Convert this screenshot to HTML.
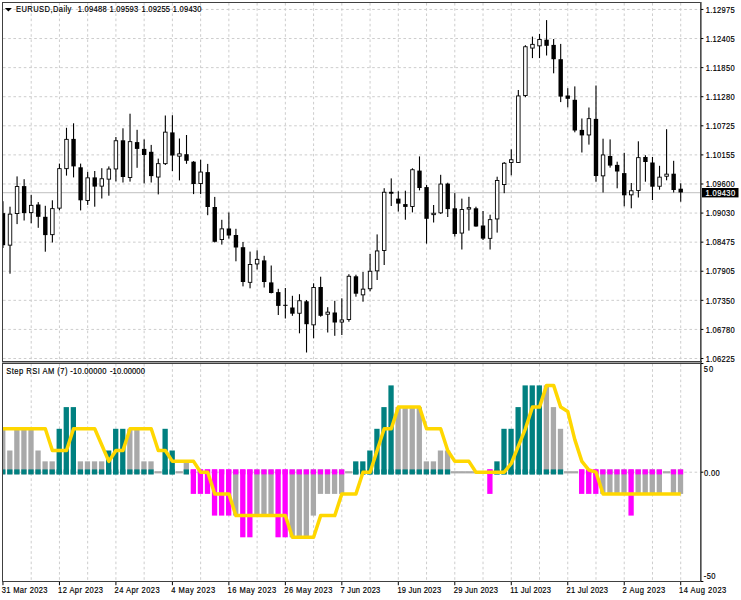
<!DOCTYPE html>
<html><head><meta charset="utf-8"><style>html,body{margin:0;padding:0;background:#fff;width:741px;height:600px;overflow:hidden;position:relative}text{font-family:"Liberation Sans",sans-serif;white-space:pre}</style></head><body>
<svg width="741" height="600" viewBox="0 0 741 600" style="position:absolute;left:0;top:0">
<rect x="0" y="0" width="741" height="600" fill="#fff"/>
<line x1="3" y1="9.45" x2="700" y2="9.45" stroke="#cdcdcd" stroke-width="1" stroke-dasharray="2.6 2.6"/>
<line x1="3" y1="38.54" x2="700" y2="38.54" stroke="#cdcdcd" stroke-width="1" stroke-dasharray="2.6 2.6"/>
<line x1="3" y1="67.63" x2="700" y2="67.63" stroke="#cdcdcd" stroke-width="1" stroke-dasharray="2.6 2.6"/>
<line x1="3" y1="96.71" x2="700" y2="96.71" stroke="#cdcdcd" stroke-width="1" stroke-dasharray="2.6 2.6"/>
<line x1="3" y1="125.80" x2="700" y2="125.80" stroke="#cdcdcd" stroke-width="1" stroke-dasharray="2.6 2.6"/>
<line x1="3" y1="154.89" x2="700" y2="154.89" stroke="#cdcdcd" stroke-width="1" stroke-dasharray="2.6 2.6"/>
<line x1="3" y1="183.98" x2="700" y2="183.98" stroke="#cdcdcd" stroke-width="1" stroke-dasharray="2.6 2.6"/>
<line x1="3" y1="213.07" x2="700" y2="213.07" stroke="#cdcdcd" stroke-width="1" stroke-dasharray="2.6 2.6"/>
<line x1="3" y1="242.15" x2="700" y2="242.15" stroke="#cdcdcd" stroke-width="1" stroke-dasharray="2.6 2.6"/>
<line x1="3" y1="271.24" x2="700" y2="271.24" stroke="#cdcdcd" stroke-width="1" stroke-dasharray="2.6 2.6"/>
<line x1="3" y1="300.33" x2="700" y2="300.33" stroke="#cdcdcd" stroke-width="1" stroke-dasharray="2.6 2.6"/>
<line x1="3" y1="329.42" x2="700" y2="329.42" stroke="#cdcdcd" stroke-width="1" stroke-dasharray="2.6 2.6"/>
<line x1="3" y1="358.51" x2="700" y2="358.51" stroke="#cdcdcd" stroke-width="1" stroke-dasharray="2.6 2.6"/>
<line x1="31.19" y1="3" x2="31.19" y2="361" stroke="#cdcdcd" stroke-width="1" stroke-dasharray="2.6 2.6"/>
<line x1="31.19" y1="364" x2="31.19" y2="581" stroke="#cdcdcd" stroke-width="1" stroke-dasharray="2.6 2.6"/>
<line x1="59.43" y1="3" x2="59.43" y2="361" stroke="#cdcdcd" stroke-width="1" stroke-dasharray="2.6 2.6"/>
<line x1="59.43" y1="364" x2="59.43" y2="581" stroke="#cdcdcd" stroke-width="1" stroke-dasharray="2.6 2.6"/>
<line x1="87.67" y1="3" x2="87.67" y2="361" stroke="#cdcdcd" stroke-width="1" stroke-dasharray="2.6 2.6"/>
<line x1="87.67" y1="364" x2="87.67" y2="581" stroke="#cdcdcd" stroke-width="1" stroke-dasharray="2.6 2.6"/>
<line x1="115.91" y1="3" x2="115.91" y2="361" stroke="#cdcdcd" stroke-width="1" stroke-dasharray="2.6 2.6"/>
<line x1="115.91" y1="364" x2="115.91" y2="581" stroke="#cdcdcd" stroke-width="1" stroke-dasharray="2.6 2.6"/>
<line x1="144.15" y1="3" x2="144.15" y2="361" stroke="#cdcdcd" stroke-width="1" stroke-dasharray="2.6 2.6"/>
<line x1="144.15" y1="364" x2="144.15" y2="581" stroke="#cdcdcd" stroke-width="1" stroke-dasharray="2.6 2.6"/>
<line x1="172.39" y1="3" x2="172.39" y2="361" stroke="#cdcdcd" stroke-width="1" stroke-dasharray="2.6 2.6"/>
<line x1="172.39" y1="364" x2="172.39" y2="581" stroke="#cdcdcd" stroke-width="1" stroke-dasharray="2.6 2.6"/>
<line x1="200.63" y1="3" x2="200.63" y2="361" stroke="#cdcdcd" stroke-width="1" stroke-dasharray="2.6 2.6"/>
<line x1="200.63" y1="364" x2="200.63" y2="581" stroke="#cdcdcd" stroke-width="1" stroke-dasharray="2.6 2.6"/>
<line x1="228.87" y1="3" x2="228.87" y2="361" stroke="#cdcdcd" stroke-width="1" stroke-dasharray="2.6 2.6"/>
<line x1="228.87" y1="364" x2="228.87" y2="581" stroke="#cdcdcd" stroke-width="1" stroke-dasharray="2.6 2.6"/>
<line x1="257.11" y1="3" x2="257.11" y2="361" stroke="#cdcdcd" stroke-width="1" stroke-dasharray="2.6 2.6"/>
<line x1="257.11" y1="364" x2="257.11" y2="581" stroke="#cdcdcd" stroke-width="1" stroke-dasharray="2.6 2.6"/>
<line x1="285.35" y1="3" x2="285.35" y2="361" stroke="#cdcdcd" stroke-width="1" stroke-dasharray="2.6 2.6"/>
<line x1="285.35" y1="364" x2="285.35" y2="581" stroke="#cdcdcd" stroke-width="1" stroke-dasharray="2.6 2.6"/>
<line x1="313.59" y1="3" x2="313.59" y2="361" stroke="#cdcdcd" stroke-width="1" stroke-dasharray="2.6 2.6"/>
<line x1="313.59" y1="364" x2="313.59" y2="581" stroke="#cdcdcd" stroke-width="1" stroke-dasharray="2.6 2.6"/>
<line x1="341.83" y1="3" x2="341.83" y2="361" stroke="#cdcdcd" stroke-width="1" stroke-dasharray="2.6 2.6"/>
<line x1="341.83" y1="364" x2="341.83" y2="581" stroke="#cdcdcd" stroke-width="1" stroke-dasharray="2.6 2.6"/>
<line x1="370.07" y1="3" x2="370.07" y2="361" stroke="#cdcdcd" stroke-width="1" stroke-dasharray="2.6 2.6"/>
<line x1="370.07" y1="364" x2="370.07" y2="581" stroke="#cdcdcd" stroke-width="1" stroke-dasharray="2.6 2.6"/>
<line x1="398.31" y1="3" x2="398.31" y2="361" stroke="#cdcdcd" stroke-width="1" stroke-dasharray="2.6 2.6"/>
<line x1="398.31" y1="364" x2="398.31" y2="581" stroke="#cdcdcd" stroke-width="1" stroke-dasharray="2.6 2.6"/>
<line x1="426.55" y1="3" x2="426.55" y2="361" stroke="#cdcdcd" stroke-width="1" stroke-dasharray="2.6 2.6"/>
<line x1="426.55" y1="364" x2="426.55" y2="581" stroke="#cdcdcd" stroke-width="1" stroke-dasharray="2.6 2.6"/>
<line x1="454.79" y1="3" x2="454.79" y2="361" stroke="#cdcdcd" stroke-width="1" stroke-dasharray="2.6 2.6"/>
<line x1="454.79" y1="364" x2="454.79" y2="581" stroke="#cdcdcd" stroke-width="1" stroke-dasharray="2.6 2.6"/>
<line x1="483.03" y1="3" x2="483.03" y2="361" stroke="#cdcdcd" stroke-width="1" stroke-dasharray="2.6 2.6"/>
<line x1="483.03" y1="364" x2="483.03" y2="581" stroke="#cdcdcd" stroke-width="1" stroke-dasharray="2.6 2.6"/>
<line x1="511.27" y1="3" x2="511.27" y2="361" stroke="#cdcdcd" stroke-width="1" stroke-dasharray="2.6 2.6"/>
<line x1="511.27" y1="364" x2="511.27" y2="581" stroke="#cdcdcd" stroke-width="1" stroke-dasharray="2.6 2.6"/>
<line x1="539.51" y1="3" x2="539.51" y2="361" stroke="#cdcdcd" stroke-width="1" stroke-dasharray="2.6 2.6"/>
<line x1="539.51" y1="364" x2="539.51" y2="581" stroke="#cdcdcd" stroke-width="1" stroke-dasharray="2.6 2.6"/>
<line x1="567.75" y1="3" x2="567.75" y2="361" stroke="#cdcdcd" stroke-width="1" stroke-dasharray="2.6 2.6"/>
<line x1="567.75" y1="364" x2="567.75" y2="581" stroke="#cdcdcd" stroke-width="1" stroke-dasharray="2.6 2.6"/>
<line x1="595.99" y1="3" x2="595.99" y2="361" stroke="#cdcdcd" stroke-width="1" stroke-dasharray="2.6 2.6"/>
<line x1="595.99" y1="364" x2="595.99" y2="581" stroke="#cdcdcd" stroke-width="1" stroke-dasharray="2.6 2.6"/>
<line x1="624.23" y1="3" x2="624.23" y2="361" stroke="#cdcdcd" stroke-width="1" stroke-dasharray="2.6 2.6"/>
<line x1="624.23" y1="364" x2="624.23" y2="581" stroke="#cdcdcd" stroke-width="1" stroke-dasharray="2.6 2.6"/>
<line x1="652.47" y1="3" x2="652.47" y2="361" stroke="#cdcdcd" stroke-width="1" stroke-dasharray="2.6 2.6"/>
<line x1="652.47" y1="364" x2="652.47" y2="581" stroke="#cdcdcd" stroke-width="1" stroke-dasharray="2.6 2.6"/>
<line x1="680.71" y1="3" x2="680.71" y2="361" stroke="#cdcdcd" stroke-width="1" stroke-dasharray="2.6 2.6"/>
<line x1="680.71" y1="364" x2="680.71" y2="581" stroke="#cdcdcd" stroke-width="1" stroke-dasharray="2.6 2.6"/>
<line x1="3" y1="472.2" x2="700" y2="472.2" stroke="#cdcdcd" stroke-width="1" stroke-dasharray="2.6 2.6"/>
<line x1="3" y1="192.6" x2="700" y2="192.6" stroke="#cccccc" stroke-width="1.15"/>
<rect x="2.40" y="201.20" width="1.1" height="46.80" fill="#000"/>
<rect x="0.75" y="213.10" width="4.4" height="32.10" fill="#000"/>
<rect x="9.46" y="206.70" width="1.1" height="67.00" fill="#000"/>
<rect x="8.26" y="214.15" width="3.5" height="31.00" fill="#fff" stroke="#000" stroke-width="0.9"/>
<rect x="16.52" y="176.40" width="1.1" height="47.70" fill="#000"/>
<rect x="15.32" y="186.55" width="3.5" height="27.00" fill="#fff" stroke="#000" stroke-width="0.9"/>
<rect x="23.58" y="179.20" width="1.1" height="41.30" fill="#000"/>
<rect x="21.93" y="186.10" width="4.4" height="27.00" fill="#000"/>
<rect x="30.64" y="194.80" width="1.1" height="28.40" fill="#000"/>
<rect x="29.44" y="205.35" width="3.5" height="7.30" fill="#fff" stroke="#000" stroke-width="0.9"/>
<rect x="37.70" y="202.10" width="1.1" height="25.70" fill="#000"/>
<rect x="36.05" y="204.50" width="4.4" height="12.30" fill="#000"/>
<rect x="44.76" y="205.80" width="1.1" height="45.90" fill="#000"/>
<rect x="43.11" y="216.80" width="4.4" height="18.30" fill="#000"/>
<rect x="51.82" y="200.30" width="1.1" height="42.20" fill="#000"/>
<rect x="50.62" y="208.65" width="3.5" height="26.00" fill="#fff" stroke="#000" stroke-width="0.9"/>
<rect x="58.88" y="163.60" width="1.1" height="46.80" fill="#000"/>
<rect x="57.68" y="168.65" width="3.5" height="39.50" fill="#fff" stroke="#000" stroke-width="0.9"/>
<rect x="65.94" y="127.80" width="1.1" height="47.80" fill="#000"/>
<rect x="64.74" y="139.35" width="3.5" height="29.30" fill="#fff" stroke="#000" stroke-width="0.9"/>
<rect x="73.00" y="123.30" width="1.1" height="54.10" fill="#000"/>
<rect x="71.35" y="138.90" width="4.4" height="27.50" fill="#000"/>
<rect x="80.06" y="163.60" width="1.1" height="46.80" fill="#000"/>
<rect x="78.41" y="167.30" width="4.4" height="33.00" fill="#000"/>
<rect x="87.12" y="171.90" width="1.1" height="33.00" fill="#000"/>
<rect x="85.92" y="177.85" width="3.5" height="22.60" fill="#fff" stroke="#000" stroke-width="0.9"/>
<rect x="94.18" y="171.00" width="1.1" height="35.70" fill="#000"/>
<rect x="92.53" y="177.40" width="4.4" height="9.20" fill="#000"/>
<rect x="101.24" y="168.20" width="1.1" height="30.30" fill="#000"/>
<rect x="100.04" y="178.75" width="3.5" height="7.40" fill="#fff" stroke="#000" stroke-width="0.9"/>
<rect x="108.30" y="166.40" width="1.1" height="29.30" fill="#000"/>
<rect x="107.10" y="169.05" width="3.5" height="10.10" fill="#fff" stroke="#000" stroke-width="0.9"/>
<rect x="115.36" y="137.00" width="1.1" height="44.40" fill="#000"/>
<rect x="114.16" y="140.75" width="3.5" height="28.20" fill="#fff" stroke="#000" stroke-width="0.9"/>
<rect x="122.42" y="128.30" width="1.1" height="54.20" fill="#000"/>
<rect x="120.77" y="140.30" width="4.4" height="36.70" fill="#000"/>
<rect x="129.48" y="113.70" width="1.1" height="67.90" fill="#000"/>
<rect x="128.28" y="141.65" width="3.5" height="35.80" fill="#fff" stroke="#000" stroke-width="0.9"/>
<rect x="136.54" y="129.80" width="1.1" height="38.00" fill="#000"/>
<rect x="134.89" y="142.10" width="4.4" height="6.80" fill="#000"/>
<rect x="143.60" y="139.40" width="1.1" height="44.00" fill="#000"/>
<rect x="141.95" y="148.90" width="4.4" height="6.10" fill="#000"/>
<rect x="150.66" y="144.90" width="1.1" height="37.60" fill="#000"/>
<rect x="149.01" y="151.80" width="4.4" height="24.30" fill="#000"/>
<rect x="157.72" y="158.60" width="1.1" height="35.80" fill="#000"/>
<rect x="156.52" y="163.65" width="3.5" height="13.40" fill="#fff" stroke="#000" stroke-width="0.9"/>
<rect x="164.78" y="115.50" width="1.1" height="49.50" fill="#000"/>
<rect x="163.58" y="132.15" width="3.5" height="31.50" fill="#fff" stroke="#000" stroke-width="0.9"/>
<rect x="171.84" y="115.20" width="1.1" height="55.80" fill="#000"/>
<rect x="170.19" y="132.40" width="4.4" height="23.10" fill="#000"/>
<rect x="178.90" y="138.50" width="1.1" height="41.90" fill="#000"/>
<rect x="177.70" y="153.85" width="3.5" height="2.30" fill="#fff" stroke="#000" stroke-width="0.9"/>
<rect x="185.96" y="135.00" width="1.1" height="28.80" fill="#000"/>
<rect x="184.31" y="154.20" width="4.4" height="6.60" fill="#000"/>
<rect x="193.02" y="161.10" width="1.1" height="33.00" fill="#000"/>
<rect x="191.37" y="161.70" width="4.4" height="22.30" fill="#000"/>
<rect x="200.08" y="159.80" width="1.1" height="34.30" fill="#000"/>
<rect x="198.88" y="172.05" width="3.5" height="11.50" fill="#fff" stroke="#000" stroke-width="0.9"/>
<rect x="207.14" y="163.90" width="1.1" height="51.30" fill="#000"/>
<rect x="205.49" y="172.10" width="4.4" height="34.90" fill="#000"/>
<rect x="214.20" y="196.90" width="1.1" height="45.60" fill="#000"/>
<rect x="212.55" y="207.00" width="4.4" height="34.80" fill="#000"/>
<rect x="221.26" y="219.80" width="1.1" height="24.80" fill="#000"/>
<rect x="220.06" y="228.85" width="3.5" height="10.70" fill="#fff" stroke="#000" stroke-width="0.9"/>
<rect x="228.32" y="212.50" width="1.1" height="26.10" fill="#000"/>
<rect x="226.67" y="228.50" width="4.4" height="7.00" fill="#000"/>
<rect x="235.38" y="228.80" width="1.1" height="32.50" fill="#000"/>
<rect x="233.73" y="235.00" width="4.4" height="12.50" fill="#000"/>
<rect x="242.44" y="242.00" width="1.1" height="44.40" fill="#000"/>
<rect x="240.79" y="247.20" width="4.4" height="34.80" fill="#000"/>
<rect x="249.50" y="251.60" width="1.1" height="36.70" fill="#000"/>
<rect x="248.30" y="264.45" width="3.5" height="17.90" fill="#fff" stroke="#000" stroke-width="0.9"/>
<rect x="256.56" y="250.30" width="1.1" height="19.20" fill="#000"/>
<rect x="255.36" y="259.35" width="3.5" height="4.60" fill="#fff" stroke="#000" stroke-width="0.9"/>
<rect x="263.62" y="255.80" width="1.1" height="31.70" fill="#000"/>
<rect x="261.97" y="260.40" width="4.4" height="21.60" fill="#000"/>
<rect x="270.68" y="265.50" width="1.1" height="27.90" fill="#000"/>
<rect x="269.03" y="282.40" width="4.4" height="10.60" fill="#000"/>
<rect x="277.74" y="288.80" width="1.1" height="26.20" fill="#000"/>
<rect x="276.09" y="292.10" width="4.4" height="13.80" fill="#000"/>
<rect x="284.80" y="288.00" width="1.1" height="30.50" fill="#000"/>
<rect x="283.15" y="304.80" width="4.4" height="1" fill="#000"/>
<rect x="291.86" y="295.80" width="1.1" height="20.00" fill="#000"/>
<rect x="290.21" y="307.50" width="4.4" height="6.20" fill="#000"/>
<rect x="298.92" y="294.20" width="1.1" height="39.10" fill="#000"/>
<rect x="297.72" y="300.75" width="3.5" height="12.50" fill="#fff" stroke="#000" stroke-width="0.9"/>
<rect x="305.98" y="300.00" width="1.1" height="52.50" fill="#000"/>
<rect x="304.33" y="301.30" width="4.4" height="22.90" fill="#000"/>
<rect x="313.04" y="283.30" width="1.1" height="55.00" fill="#000"/>
<rect x="311.84" y="287.45" width="3.5" height="37.40" fill="#fff" stroke="#000" stroke-width="0.9"/>
<rect x="320.10" y="276.70" width="1.1" height="40.00" fill="#000"/>
<rect x="318.45" y="287.00" width="4.4" height="28.80" fill="#000"/>
<rect x="327.16" y="307.20" width="1.1" height="25.30" fill="#000"/>
<rect x="325.96" y="312.15" width="3.5" height="2.10" fill="#fff" stroke="#000" stroke-width="0.9"/>
<rect x="334.22" y="300.80" width="1.1" height="35.00" fill="#000"/>
<rect x="332.57" y="312.50" width="4.4" height="10.00" fill="#000"/>
<rect x="341.28" y="298.30" width="1.1" height="36.70" fill="#000"/>
<rect x="340.08" y="319.95" width="3.5" height="2.10" fill="#fff" stroke="#000" stroke-width="0.9"/>
<rect x="348.34" y="274.20" width="1.1" height="47.50" fill="#000"/>
<rect x="347.14" y="276.25" width="3.5" height="43.30" fill="#fff" stroke="#000" stroke-width="0.9"/>
<rect x="355.40" y="274.70" width="1.1" height="22.00" fill="#000"/>
<rect x="353.75" y="276.30" width="4.4" height="17.40" fill="#000"/>
<rect x="362.46" y="272.00" width="1.1" height="29.70" fill="#000"/>
<rect x="361.26" y="289.15" width="3.5" height="5.70" fill="#fff" stroke="#000" stroke-width="0.9"/>
<rect x="369.52" y="254.00" width="1.1" height="37.30" fill="#000"/>
<rect x="368.32" y="271.25" width="3.5" height="17.50" fill="#fff" stroke="#000" stroke-width="0.9"/>
<rect x="376.58" y="234.40" width="1.1" height="45.60" fill="#000"/>
<rect x="375.38" y="250.95" width="3.5" height="19.90" fill="#fff" stroke="#000" stroke-width="0.9"/>
<rect x="383.64" y="188.20" width="1.1" height="76.80" fill="#000"/>
<rect x="382.44" y="192.25" width="3.5" height="58.20" fill="#fff" stroke="#000" stroke-width="0.9"/>
<rect x="390.70" y="178.40" width="1.1" height="27.60" fill="#000"/>
<rect x="389.05" y="191.80" width="4.4" height="1.90" fill="#000"/>
<rect x="397.76" y="191.30" width="1.1" height="20.20" fill="#000"/>
<rect x="396.11" y="198.60" width="4.4" height="5.00" fill="#000"/>
<rect x="404.82" y="190.70" width="1.1" height="29.00" fill="#000"/>
<rect x="403.17" y="204.10" width="4.4" height="2.80" fill="#000"/>
<rect x="411.88" y="168.30" width="1.1" height="44.10" fill="#000"/>
<rect x="410.68" y="169.75" width="3.5" height="36.70" fill="#fff" stroke="#000" stroke-width="0.9"/>
<rect x="418.94" y="156.40" width="1.1" height="34.00" fill="#000"/>
<rect x="417.29" y="170.60" width="4.4" height="17.40" fill="#000"/>
<rect x="426.00" y="184.90" width="1.1" height="58.70" fill="#000"/>
<rect x="424.35" y="187.10" width="4.4" height="31.70" fill="#000"/>
<rect x="433.06" y="205.00" width="1.1" height="17.50" fill="#000"/>
<rect x="431.86" y="213.25" width="3.5" height="1.40" fill="#fff" stroke="#000" stroke-width="0.9"/>
<rect x="440.12" y="174.80" width="1.1" height="39.10" fill="#000"/>
<rect x="438.92" y="184.05" width="3.5" height="28.80" fill="#fff" stroke="#000" stroke-width="0.9"/>
<rect x="447.18" y="182.70" width="1.1" height="34.30" fill="#000"/>
<rect x="445.53" y="183.60" width="4.4" height="25.50" fill="#000"/>
<rect x="454.24" y="193.10" width="1.1" height="43.50" fill="#000"/>
<rect x="452.59" y="208.30" width="4.4" height="25.70" fill="#000"/>
<rect x="461.30" y="198.60" width="1.1" height="50.90" fill="#000"/>
<rect x="460.10" y="209.55" width="3.5" height="23.50" fill="#fff" stroke="#000" stroke-width="0.9"/>
<rect x="468.36" y="196.80" width="1.1" height="33.80" fill="#000"/>
<rect x="467.16" y="207.65" width="3.5" height="1.40" fill="#fff" stroke="#000" stroke-width="0.9"/>
<rect x="475.42" y="206.70" width="1.1" height="20.00" fill="#000"/>
<rect x="473.77" y="208.30" width="4.4" height="18.20" fill="#000"/>
<rect x="482.48" y="211.00" width="1.1" height="29.00" fill="#000"/>
<rect x="480.83" y="225.50" width="4.4" height="13.10" fill="#000"/>
<rect x="489.54" y="214.70" width="1.1" height="34.80" fill="#000"/>
<rect x="488.34" y="219.65" width="3.5" height="18.70" fill="#fff" stroke="#000" stroke-width="0.9"/>
<rect x="496.60" y="176.70" width="1.1" height="55.90" fill="#000"/>
<rect x="495.40" y="180.45" width="3.5" height="38.50" fill="#fff" stroke="#000" stroke-width="0.9"/>
<rect x="503.66" y="162.00" width="1.1" height="31.20" fill="#000"/>
<rect x="502.46" y="163.25" width="3.5" height="21.30" fill="#fff" stroke="#000" stroke-width="0.9"/>
<rect x="510.72" y="149.30" width="1.1" height="26.00" fill="#000"/>
<rect x="509.52" y="159.75" width="3.5" height="2.70" fill="#fff" stroke="#000" stroke-width="0.9"/>
<rect x="517.78" y="90.00" width="1.1" height="72.90" fill="#000"/>
<rect x="516.58" y="95.95" width="3.5" height="66.50" fill="#fff" stroke="#000" stroke-width="0.9"/>
<rect x="524.84" y="45.20" width="1.1" height="52.00" fill="#000"/>
<rect x="523.64" y="46.75" width="3.5" height="48.80" fill="#fff" stroke="#000" stroke-width="0.9"/>
<rect x="531.90" y="36.60" width="1.1" height="21.50" fill="#000"/>
<rect x="530.70" y="44.35" width="3.5" height="3.70" fill="#fff" stroke="#000" stroke-width="0.9"/>
<rect x="538.96" y="33.90" width="1.1" height="24.20" fill="#000"/>
<rect x="537.76" y="39.45" width="3.5" height="6.40" fill="#fff" stroke="#000" stroke-width="0.9"/>
<rect x="546.02" y="20.10" width="1.1" height="35.40" fill="#000"/>
<rect x="544.37" y="39.70" width="4.4" height="6.10" fill="#000"/>
<rect x="553.08" y="39.00" width="1.1" height="34.30" fill="#000"/>
<rect x="551.43" y="44.90" width="4.4" height="14.30" fill="#000"/>
<rect x="560.14" y="43.90" width="1.1" height="58.20" fill="#000"/>
<rect x="558.49" y="59.20" width="4.4" height="37.40" fill="#000"/>
<rect x="567.20" y="88.20" width="1.1" height="19.10" fill="#000"/>
<rect x="565.55" y="95.50" width="4.4" height="3.30" fill="#000"/>
<rect x="574.26" y="86.40" width="1.1" height="45.90" fill="#000"/>
<rect x="572.61" y="99.80" width="4.4" height="30.70" fill="#000"/>
<rect x="581.32" y="118.50" width="1.1" height="34.00" fill="#000"/>
<rect x="579.67" y="129.90" width="4.4" height="5.50" fill="#000"/>
<rect x="588.38" y="107.50" width="1.1" height="37.10" fill="#000"/>
<rect x="587.18" y="118.65" width="3.5" height="16.30" fill="#fff" stroke="#000" stroke-width="0.9"/>
<rect x="595.44" y="85.50" width="1.1" height="96.20" fill="#000"/>
<rect x="593.79" y="118.90" width="4.4" height="57.10" fill="#000"/>
<rect x="602.50" y="138.70" width="1.1" height="53.80" fill="#000"/>
<rect x="601.30" y="154.95" width="3.5" height="20.90" fill="#fff" stroke="#000" stroke-width="0.9"/>
<rect x="609.56" y="139.40" width="1.1" height="28.20" fill="#000"/>
<rect x="607.91" y="156.00" width="4.4" height="9.60" fill="#000"/>
<rect x="616.62" y="161.70" width="1.1" height="26.60" fill="#000"/>
<rect x="614.97" y="164.90" width="4.4" height="6.60" fill="#000"/>
<rect x="623.68" y="152.80" width="1.1" height="53.50" fill="#000"/>
<rect x="622.03" y="173.10" width="4.4" height="22.20" fill="#000"/>
<rect x="630.74" y="183.00" width="1.1" height="25.30" fill="#000"/>
<rect x="629.54" y="190.75" width="3.5" height="4.10" fill="#fff" stroke="#000" stroke-width="0.9"/>
<rect x="637.80" y="141.30" width="1.1" height="56.20" fill="#000"/>
<rect x="636.60" y="157.65" width="3.5" height="32.90" fill="#fff" stroke="#000" stroke-width="0.9"/>
<rect x="644.86" y="155.20" width="1.1" height="26.50" fill="#000"/>
<rect x="643.21" y="157.00" width="4.4" height="5.00" fill="#000"/>
<rect x="651.92" y="157.00" width="1.1" height="43.00" fill="#000"/>
<rect x="650.27" y="162.50" width="4.4" height="24.20" fill="#000"/>
<rect x="658.98" y="165.80" width="1.1" height="23.90" fill="#000"/>
<rect x="657.78" y="177.15" width="3.5" height="9.10" fill="#fff" stroke="#000" stroke-width="0.9"/>
<rect x="666.04" y="129.20" width="1.1" height="51.10" fill="#000"/>
<rect x="664.84" y="174.15" width="3.5" height="2.10" fill="#fff" stroke="#000" stroke-width="0.9"/>
<rect x="673.10" y="160.80" width="1.1" height="31.70" fill="#000"/>
<rect x="671.45" y="173.70" width="4.4" height="16.30" fill="#000"/>
<rect x="680.16" y="183.30" width="1.1" height="18.40" fill="#000"/>
<rect x="678.51" y="188.70" width="4.4" height="3.80" fill="#000"/>
<rect x="0.10" y="428.80" width="5.3" height="45.60" fill="#a9a9a9"/>
<rect x="0.10" y="469.4" width="5.3" height="5.0" fill="#008080"/>
<rect x="7.16" y="450.50" width="5.3" height="23.90" fill="#a9a9a9"/>
<rect x="7.16" y="469.4" width="5.3" height="5.0" fill="#008080"/>
<rect x="14.22" y="428.80" width="5.3" height="45.60" fill="#a9a9a9"/>
<rect x="14.22" y="469.4" width="5.3" height="5.0" fill="#008080"/>
<rect x="21.28" y="428.80" width="5.3" height="45.60" fill="#a9a9a9"/>
<rect x="21.28" y="469.4" width="5.3" height="5.0" fill="#008080"/>
<rect x="28.34" y="428.80" width="5.3" height="45.60" fill="#a9a9a9"/>
<rect x="28.34" y="469.4" width="5.3" height="5.0" fill="#008080"/>
<rect x="35.40" y="450.50" width="5.3" height="23.90" fill="#a9a9a9"/>
<rect x="35.40" y="469.4" width="5.3" height="5.0" fill="#008080"/>
<rect x="42.46" y="461.35" width="5.3" height="13.05" fill="#a9a9a9"/>
<rect x="42.46" y="469.4" width="5.3" height="5.0" fill="#008080"/>
<rect x="49.52" y="461.35" width="5.3" height="13.05" fill="#a9a9a9"/>
<rect x="49.52" y="469.4" width="5.3" height="5.0" fill="#008080"/>
<rect x="56.58" y="428.80" width="5.3" height="45.60" fill="#008080"/>
<rect x="56.58" y="469.4" width="5.3" height="5.0" fill="#008080"/>
<rect x="63.64" y="407.10" width="5.3" height="67.30" fill="#008080"/>
<rect x="63.64" y="469.4" width="5.3" height="5.0" fill="#008080"/>
<rect x="70.70" y="407.10" width="5.3" height="67.30" fill="#008080"/>
<rect x="70.70" y="469.4" width="5.3" height="5.0" fill="#008080"/>
<rect x="77.76" y="461.35" width="5.3" height="13.05" fill="#a9a9a9"/>
<rect x="77.76" y="469.4" width="5.3" height="5.0" fill="#008080"/>
<rect x="84.82" y="461.35" width="5.3" height="13.05" fill="#a9a9a9"/>
<rect x="84.82" y="469.4" width="5.3" height="5.0" fill="#008080"/>
<rect x="91.88" y="461.35" width="5.3" height="13.05" fill="#a9a9a9"/>
<rect x="91.88" y="469.4" width="5.3" height="5.0" fill="#008080"/>
<rect x="98.94" y="461.35" width="5.3" height="13.05" fill="#a9a9a9"/>
<rect x="98.94" y="469.4" width="5.3" height="5.0" fill="#008080"/>
<rect x="106.00" y="450.50" width="5.3" height="23.90" fill="#008080"/>
<rect x="106.00" y="469.4" width="5.3" height="5.0" fill="#008080"/>
<rect x="113.06" y="428.80" width="5.3" height="45.60" fill="#008080"/>
<rect x="113.06" y="469.4" width="5.3" height="5.0" fill="#008080"/>
<rect x="120.12" y="428.80" width="5.3" height="45.60" fill="#008080"/>
<rect x="120.12" y="469.4" width="5.3" height="5.0" fill="#008080"/>
<rect x="127.18" y="428.80" width="5.3" height="45.60" fill="#a9a9a9"/>
<rect x="127.18" y="469.4" width="5.3" height="5.0" fill="#008080"/>
<rect x="134.24" y="428.80" width="5.3" height="45.60" fill="#a9a9a9"/>
<rect x="134.24" y="469.4" width="5.3" height="5.0" fill="#008080"/>
<rect x="141.30" y="461.35" width="5.3" height="13.05" fill="#a9a9a9"/>
<rect x="141.30" y="469.4" width="5.3" height="5.0" fill="#008080"/>
<rect x="148.36" y="461.35" width="5.3" height="13.05" fill="#a9a9a9"/>
<rect x="148.36" y="469.4" width="5.3" height="5.0" fill="#008080"/>
<rect x="154.47" y="471.2" width="7.2" height="2.2" fill="#a9a9a9"/>
<rect x="162.48" y="428.80" width="5.3" height="45.60" fill="#008080"/>
<rect x="162.48" y="469.4" width="5.3" height="5.0" fill="#008080"/>
<rect x="169.54" y="450.50" width="5.3" height="23.90" fill="#008080"/>
<rect x="169.54" y="469.4" width="5.3" height="5.0" fill="#008080"/>
<rect x="175.65" y="471.2" width="7.2" height="2.2" fill="#a9a9a9"/>
<rect x="183.66" y="461.35" width="5.3" height="13.05" fill="#a9a9a9"/>
<rect x="183.66" y="469.4" width="5.3" height="5.0" fill="#008080"/>
<rect x="190.72" y="469.4" width="5.3" height="24.50" fill="#ff00ff"/>
<rect x="190.72" y="469.4" width="5.3" height="5.0" fill="#ff00ff"/>
<rect x="197.78" y="469.4" width="5.3" height="24.50" fill="#ff00ff"/>
<rect x="197.78" y="469.4" width="5.3" height="5.0" fill="#ff00ff"/>
<rect x="204.84" y="469.4" width="5.3" height="24.50" fill="#ff00ff"/>
<rect x="204.84" y="469.4" width="5.3" height="5.0" fill="#ff00ff"/>
<rect x="211.90" y="469.4" width="5.3" height="46.20" fill="#ff00ff"/>
<rect x="211.90" y="469.4" width="5.3" height="5.0" fill="#ff00ff"/>
<rect x="218.96" y="469.4" width="5.3" height="46.20" fill="#ff00ff"/>
<rect x="218.96" y="469.4" width="5.3" height="5.0" fill="#ff00ff"/>
<rect x="226.02" y="469.4" width="5.3" height="46.20" fill="#ff00ff"/>
<rect x="226.02" y="469.4" width="5.3" height="5.0" fill="#ff00ff"/>
<rect x="233.08" y="469.4" width="5.3" height="46.20" fill="#a9a9a9"/>
<rect x="233.08" y="469.4" width="5.3" height="5.0" fill="#ff00ff"/>
<rect x="240.14" y="469.4" width="5.3" height="67.90" fill="#ff00ff"/>
<rect x="240.14" y="469.4" width="5.3" height="5.0" fill="#ff00ff"/>
<rect x="247.20" y="469.4" width="5.3" height="67.90" fill="#ff00ff"/>
<rect x="247.20" y="469.4" width="5.3" height="5.0" fill="#ff00ff"/>
<rect x="254.26" y="469.4" width="5.3" height="46.20" fill="#a9a9a9"/>
<rect x="254.26" y="469.4" width="5.3" height="5.0" fill="#ff00ff"/>
<rect x="261.32" y="469.4" width="5.3" height="46.20" fill="#a9a9a9"/>
<rect x="261.32" y="469.4" width="5.3" height="5.0" fill="#ff00ff"/>
<rect x="268.38" y="469.4" width="5.3" height="46.20" fill="#a9a9a9"/>
<rect x="268.38" y="469.4" width="5.3" height="5.0" fill="#ff00ff"/>
<rect x="275.44" y="469.4" width="5.3" height="67.90" fill="#ff00ff"/>
<rect x="275.44" y="469.4" width="5.3" height="5.0" fill="#ff00ff"/>
<rect x="282.50" y="469.4" width="5.3" height="67.90" fill="#ff00ff"/>
<rect x="282.50" y="469.4" width="5.3" height="5.0" fill="#ff00ff"/>
<rect x="289.56" y="469.4" width="5.3" height="67.90" fill="#a9a9a9"/>
<rect x="289.56" y="469.4" width="5.3" height="5.0" fill="#ff00ff"/>
<rect x="296.62" y="469.4" width="5.3" height="67.90" fill="#a9a9a9"/>
<rect x="296.62" y="469.4" width="5.3" height="5.0" fill="#ff00ff"/>
<rect x="303.68" y="469.4" width="5.3" height="67.90" fill="#a9a9a9"/>
<rect x="303.68" y="469.4" width="5.3" height="5.0" fill="#ff00ff"/>
<rect x="310.74" y="469.4" width="5.3" height="46.20" fill="#a9a9a9"/>
<rect x="310.74" y="469.4" width="5.3" height="5.0" fill="#ff00ff"/>
<rect x="317.80" y="469.4" width="5.3" height="24.50" fill="#a9a9a9"/>
<rect x="317.80" y="469.4" width="5.3" height="5.0" fill="#ff00ff"/>
<rect x="324.86" y="469.4" width="5.3" height="24.50" fill="#a9a9a9"/>
<rect x="324.86" y="469.4" width="5.3" height="5.0" fill="#ff00ff"/>
<rect x="331.92" y="469.4" width="5.3" height="24.50" fill="#a9a9a9"/>
<rect x="331.92" y="469.4" width="5.3" height="5.0" fill="#ff00ff"/>
<rect x="338.98" y="469.4" width="5.3" height="24.50" fill="#a9a9a9"/>
<rect x="338.98" y="469.4" width="5.3" height="5.0" fill="#ff00ff"/>
<rect x="345.09" y="471.2" width="7.2" height="2.2" fill="#a9a9a9"/>
<rect x="353.10" y="461.35" width="5.3" height="13.05" fill="#008080"/>
<rect x="353.10" y="469.4" width="5.3" height="5.0" fill="#008080"/>
<rect x="360.16" y="461.35" width="5.3" height="13.05" fill="#008080"/>
<rect x="360.16" y="469.4" width="5.3" height="5.0" fill="#008080"/>
<rect x="367.22" y="450.50" width="5.3" height="23.90" fill="#008080"/>
<rect x="367.22" y="469.4" width="5.3" height="5.0" fill="#008080"/>
<rect x="374.28" y="428.80" width="5.3" height="45.60" fill="#008080"/>
<rect x="374.28" y="469.4" width="5.3" height="5.0" fill="#008080"/>
<rect x="381.34" y="407.10" width="5.3" height="67.30" fill="#008080"/>
<rect x="381.34" y="469.4" width="5.3" height="5.0" fill="#008080"/>
<rect x="388.40" y="385.40" width="5.3" height="89.00" fill="#008080"/>
<rect x="388.40" y="469.4" width="5.3" height="5.0" fill="#008080"/>
<rect x="395.46" y="407.10" width="5.3" height="67.30" fill="#a9a9a9"/>
<rect x="395.46" y="469.4" width="5.3" height="5.0" fill="#008080"/>
<rect x="402.52" y="407.10" width="5.3" height="67.30" fill="#a9a9a9"/>
<rect x="402.52" y="469.4" width="5.3" height="5.0" fill="#008080"/>
<rect x="409.58" y="407.10" width="5.3" height="67.30" fill="#a9a9a9"/>
<rect x="409.58" y="469.4" width="5.3" height="5.0" fill="#008080"/>
<rect x="416.64" y="407.10" width="5.3" height="67.30" fill="#a9a9a9"/>
<rect x="416.64" y="469.4" width="5.3" height="5.0" fill="#008080"/>
<rect x="423.70" y="461.35" width="5.3" height="13.05" fill="#a9a9a9"/>
<rect x="423.70" y="469.4" width="5.3" height="5.0" fill="#008080"/>
<rect x="430.76" y="461.35" width="5.3" height="13.05" fill="#a9a9a9"/>
<rect x="430.76" y="469.4" width="5.3" height="5.0" fill="#008080"/>
<rect x="437.82" y="450.50" width="5.3" height="23.90" fill="#a9a9a9"/>
<rect x="437.82" y="469.4" width="5.3" height="5.0" fill="#008080"/>
<rect x="444.88" y="450.50" width="5.3" height="23.90" fill="#a9a9a9"/>
<rect x="444.88" y="469.4" width="5.3" height="5.0" fill="#008080"/>
<rect x="450.99" y="471.2" width="7.2" height="2.2" fill="#a9a9a9"/>
<rect x="458.05" y="471.2" width="7.2" height="2.2" fill="#a9a9a9"/>
<rect x="465.11" y="471.2" width="7.2" height="2.2" fill="#a9a9a9"/>
<rect x="472.17" y="471.2" width="7.2" height="2.2" fill="#a9a9a9"/>
<rect x="479.23" y="471.2" width="7.2" height="2.2" fill="#a9a9a9"/>
<rect x="487.24" y="469.4" width="5.3" height="24.50" fill="#ff00ff"/>
<rect x="487.24" y="469.4" width="5.3" height="5.0" fill="#ff00ff"/>
<rect x="494.30" y="461.35" width="5.3" height="13.05" fill="#008080"/>
<rect x="494.30" y="469.4" width="5.3" height="5.0" fill="#008080"/>
<rect x="501.36" y="428.80" width="5.3" height="45.60" fill="#008080"/>
<rect x="501.36" y="469.4" width="5.3" height="5.0" fill="#008080"/>
<rect x="508.42" y="428.80" width="5.3" height="45.60" fill="#008080"/>
<rect x="508.42" y="469.4" width="5.3" height="5.0" fill="#008080"/>
<rect x="515.48" y="407.10" width="5.3" height="67.30" fill="#008080"/>
<rect x="515.48" y="469.4" width="5.3" height="5.0" fill="#008080"/>
<rect x="522.54" y="385.40" width="5.3" height="89.00" fill="#008080"/>
<rect x="522.54" y="469.4" width="5.3" height="5.0" fill="#008080"/>
<rect x="529.60" y="385.40" width="5.3" height="89.00" fill="#008080"/>
<rect x="529.60" y="469.4" width="5.3" height="5.0" fill="#008080"/>
<rect x="536.66" y="385.40" width="5.3" height="89.00" fill="#008080"/>
<rect x="536.66" y="469.4" width="5.3" height="5.0" fill="#008080"/>
<rect x="543.72" y="385.40" width="5.3" height="89.00" fill="#a9a9a9"/>
<rect x="543.72" y="469.4" width="5.3" height="5.0" fill="#008080"/>
<rect x="550.78" y="407.10" width="5.3" height="67.30" fill="#a9a9a9"/>
<rect x="550.78" y="469.4" width="5.3" height="5.0" fill="#008080"/>
<rect x="557.84" y="428.80" width="5.3" height="45.60" fill="#a9a9a9"/>
<rect x="557.84" y="469.4" width="5.3" height="5.0" fill="#008080"/>
<rect x="563.95" y="471.2" width="7.2" height="2.2" fill="#a9a9a9"/>
<rect x="571.01" y="471.2" width="7.2" height="2.2" fill="#a9a9a9"/>
<rect x="579.02" y="469.4" width="5.3" height="24.50" fill="#ff00ff"/>
<rect x="579.02" y="469.4" width="5.3" height="5.0" fill="#ff00ff"/>
<rect x="586.08" y="469.4" width="5.3" height="24.50" fill="#ff00ff"/>
<rect x="586.08" y="469.4" width="5.3" height="5.0" fill="#ff00ff"/>
<rect x="593.14" y="469.4" width="5.3" height="24.50" fill="#ff00ff"/>
<rect x="593.14" y="469.4" width="5.3" height="5.0" fill="#ff00ff"/>
<rect x="600.20" y="469.4" width="5.3" height="24.50" fill="#a9a9a9"/>
<rect x="600.20" y="469.4" width="5.3" height="5.0" fill="#ff00ff"/>
<rect x="607.26" y="469.4" width="5.3" height="24.50" fill="#a9a9a9"/>
<rect x="607.26" y="469.4" width="5.3" height="5.0" fill="#ff00ff"/>
<rect x="614.32" y="469.4" width="5.3" height="24.50" fill="#a9a9a9"/>
<rect x="614.32" y="469.4" width="5.3" height="5.0" fill="#ff00ff"/>
<rect x="621.38" y="469.4" width="5.3" height="24.50" fill="#a9a9a9"/>
<rect x="621.38" y="469.4" width="5.3" height="5.0" fill="#ff00ff"/>
<rect x="628.44" y="469.4" width="5.3" height="46.20" fill="#ff00ff"/>
<rect x="628.44" y="469.4" width="5.3" height="5.0" fill="#ff00ff"/>
<rect x="635.50" y="469.4" width="5.3" height="24.50" fill="#a9a9a9"/>
<rect x="635.50" y="469.4" width="5.3" height="5.0" fill="#ff00ff"/>
<rect x="642.56" y="469.4" width="5.3" height="24.50" fill="#a9a9a9"/>
<rect x="642.56" y="469.4" width="5.3" height="5.0" fill="#ff00ff"/>
<rect x="649.62" y="469.4" width="5.3" height="24.50" fill="#a9a9a9"/>
<rect x="649.62" y="469.4" width="5.3" height="5.0" fill="#ff00ff"/>
<rect x="656.68" y="469.4" width="5.3" height="24.50" fill="#a9a9a9"/>
<rect x="656.68" y="469.4" width="5.3" height="5.0" fill="#ff00ff"/>
<rect x="662.79" y="471.2" width="7.2" height="2.2" fill="#a9a9a9"/>
<rect x="670.80" y="469.4" width="5.3" height="24.50" fill="#a9a9a9"/>
<rect x="670.80" y="469.4" width="5.3" height="5.0" fill="#ff00ff"/>
<rect x="677.86" y="469.4" width="5.3" height="24.50" fill="#a9a9a9"/>
<rect x="677.86" y="469.4" width="5.3" height="5.0" fill="#ff00ff"/>
<polyline points="2.95,428.80 10.01,428.80 17.07,428.80 24.13,428.80 31.19,428.80 38.25,428.80 45.31,428.80 52.37,450.50 59.43,450.50 66.49,450.50 73.55,428.80 80.61,428.80 87.67,428.80 94.73,428.80 101.79,445.07 108.85,461.35 115.91,450.50 122.97,450.50 130.03,428.80 137.09,428.80 144.15,428.80 151.21,428.80 158.27,450.50 165.33,450.50 172.39,461.35 179.45,461.35 186.51,461.35 193.57,461.35 200.63,472.20 207.69,472.20 214.75,493.90 221.81,493.90 228.87,493.90 235.93,515.60 242.99,515.60 250.05,515.60 257.11,515.60 264.17,515.60 271.23,515.60 278.29,515.60 285.35,515.60 292.41,537.30 299.47,537.30 306.53,537.30 313.59,537.30 320.65,515.60 327.71,515.60 334.77,515.60 341.83,493.90 348.89,493.90 355.95,493.90 363.01,472.20 370.07,472.20 377.13,450.50 384.19,428.80 391.25,428.80 398.31,407.10 405.37,407.10 412.43,407.10 419.49,407.10 426.55,428.80 433.61,428.80 440.67,428.80 447.73,450.50 454.79,461.35 461.85,461.35 468.91,461.35 475.97,472.20 483.03,472.20 490.09,472.20 497.15,472.20 504.21,472.20 511.27,463.52 518.33,446.16 525.39,428.80 532.45,407.10 539.51,407.10 546.57,385.40 553.63,385.40 560.69,407.10 567.75,411.44 574.81,439.65 581.87,461.35 588.93,470.03 595.99,472.20 603.05,493.90 610.11,493.90 617.17,493.90 624.23,493.90 631.29,493.90 638.35,493.90 645.41,493.90 652.47,493.90 659.53,493.90 666.59,493.90 673.65,493.90 680.71,493.90" fill="none" stroke="#ffd700" stroke-width="3.5" stroke-linejoin="round" stroke-linecap="butt"/>
<rect x="0" y="0" width="2" height="600" fill="#fff"/>
<rect x="702" y="0" width="39" height="600" fill="#fff"/>
<rect x="0" y="0" width="741" height="2" fill="#fff"/>
<rect x="0" y="582" width="741" height="18" fill="#fff"/>
<rect x="2" y="2" width="700" height="1" fill="#404040"/>
<rect x="2" y="2" width="1" height="580" fill="#404040"/>
<rect x="700" y="2" width="1" height="580" fill="#4c4c4c"/>
<rect x="701" y="2" width="1" height="580" fill="#8c8c8c"/>
<rect x="2" y="361" width="700" height="1" fill="#404040"/>
<rect x="2" y="362" width="698" height="1" fill="#a0a0a0"/>
<rect x="2" y="363" width="700" height="1" fill="#404040"/>
<rect x="2" y="581" width="700" height="1" fill="#404040"/>
<rect x="701" y="8.95" width="2.4" height="1" fill="#000"/>
<rect x="701" y="38.04" width="2.4" height="1" fill="#000"/>
<rect x="701" y="67.13" width="2.4" height="1" fill="#000"/>
<rect x="701" y="96.21" width="2.4" height="1" fill="#000"/>
<rect x="701" y="125.30" width="2.4" height="1" fill="#000"/>
<rect x="701" y="154.39" width="2.4" height="1" fill="#000"/>
<rect x="701" y="183.48" width="2.4" height="1" fill="#000"/>
<rect x="701" y="212.57" width="2.4" height="1" fill="#000"/>
<rect x="701" y="241.65" width="2.4" height="1" fill="#000"/>
<rect x="701" y="270.74" width="2.4" height="1" fill="#000"/>
<rect x="701" y="299.83" width="2.4" height="1" fill="#000"/>
<rect x="701" y="328.92" width="2.4" height="1" fill="#000"/>
<rect x="701" y="358.01" width="2.4" height="1" fill="#000"/>
<rect x="702" y="188" width="36.5" height="9.4" fill="#000"/>
<rect x="701" y="471.70" width="2.4" height="1" fill="#000"/>
<rect x="701" y="363.00" width="2.4" height="1" fill="#000"/>
<rect x="701" y="581.00" width="2.4" height="1" fill="#000"/>
<rect x="2.45" y="582" width="1" height="3.2" fill="#000"/>
<rect x="58.93" y="582" width="1" height="3.2" fill="#000"/>
<rect x="115.41" y="582" width="1" height="3.2" fill="#000"/>
<rect x="171.89" y="582" width="1" height="3.2" fill="#000"/>
<rect x="228.37" y="582" width="1" height="3.2" fill="#000"/>
<rect x="284.85" y="582" width="1" height="3.2" fill="#000"/>
<rect x="341.33" y="582" width="1" height="3.2" fill="#000"/>
<rect x="397.81" y="582" width="1" height="3.2" fill="#000"/>
<rect x="454.29" y="582" width="1" height="3.2" fill="#000"/>
<rect x="510.77" y="582" width="1" height="3.2" fill="#000"/>
<rect x="567.25" y="582" width="1" height="3.2" fill="#000"/>
<rect x="623.73" y="582" width="1" height="3.2" fill="#000"/>
<rect x="680.21" y="582" width="1" height="3.2" fill="#000"/>
<path d="M4.9 8.0 L11.9 8.0 L8.4 11.5 Z" fill="#000"/>
<text transform="translate(705.775,12.65) scale(0.86,1)" x="0" y="0" font-family="Liberation Sans, sans-serif" font-size="8.8" fill="#000" stroke="#000" stroke-width="0.18" textLength="33.604" lengthAdjust="spacing">1.12975</text>
<text transform="translate(705.775,41.74) scale(0.86,1)" x="0" y="0" font-family="Liberation Sans, sans-serif" font-size="8.8" fill="#000" stroke="#000" stroke-width="0.18" textLength="33.604" lengthAdjust="spacing">1.12405</text>
<text transform="translate(705.775,70.83) scale(0.86,1)" x="0" y="0" font-family="Liberation Sans, sans-serif" font-size="8.8" fill="#000" stroke="#000" stroke-width="0.18" textLength="33.603" lengthAdjust="spacing">1.11850</text>
<text transform="translate(705.775,99.91) scale(0.86,1)" x="0" y="0" font-family="Liberation Sans, sans-serif" font-size="8.8" fill="#000" stroke="#000" stroke-width="0.18" textLength="33.603" lengthAdjust="spacing">1.11280</text>
<text transform="translate(705.775,129.00) scale(0.86,1)" x="0" y="0" font-family="Liberation Sans, sans-serif" font-size="8.8" fill="#000" stroke="#000" stroke-width="0.18" textLength="33.604" lengthAdjust="spacing">1.10725</text>
<text transform="translate(705.775,158.09) scale(0.86,1)" x="0" y="0" font-family="Liberation Sans, sans-serif" font-size="8.8" fill="#000" stroke="#000" stroke-width="0.18" textLength="33.604" lengthAdjust="spacing">1.10155</text>
<text transform="translate(705.775,187.18) scale(0.86,1)" x="0" y="0" font-family="Liberation Sans, sans-serif" font-size="8.8" fill="#000" stroke="#000" stroke-width="0.18" textLength="33.603" lengthAdjust="spacing">1.09600</text>
<text transform="translate(705.775,216.27) scale(0.86,1)" x="0" y="0" font-family="Liberation Sans, sans-serif" font-size="8.8" fill="#000" stroke="#000" stroke-width="0.18" textLength="33.603" lengthAdjust="spacing">1.09030</text>
<text transform="translate(705.775,245.35) scale(0.86,1)" x="0" y="0" font-family="Liberation Sans, sans-serif" font-size="8.8" fill="#000" stroke="#000" stroke-width="0.18" textLength="33.604" lengthAdjust="spacing">1.08475</text>
<text transform="translate(705.775,274.44) scale(0.86,1)" x="0" y="0" font-family="Liberation Sans, sans-serif" font-size="8.8" fill="#000" stroke="#000" stroke-width="0.18" textLength="33.604" lengthAdjust="spacing">1.07905</text>
<text transform="translate(705.775,303.53) scale(0.86,1)" x="0" y="0" font-family="Liberation Sans, sans-serif" font-size="8.8" fill="#000" stroke="#000" stroke-width="0.18" textLength="33.603" lengthAdjust="spacing">1.07350</text>
<text transform="translate(705.775,332.62) scale(0.86,1)" x="0" y="0" font-family="Liberation Sans, sans-serif" font-size="8.8" fill="#000" stroke="#000" stroke-width="0.18" textLength="33.603" lengthAdjust="spacing">1.06780</text>
<text transform="translate(705.775,361.71) scale(0.86,1)" x="0" y="0" font-family="Liberation Sans, sans-serif" font-size="8.8" fill="#000" stroke="#000" stroke-width="0.18" textLength="33.604" lengthAdjust="spacing">1.06225</text>
<text transform="translate(705.425,195.90) scale(0.86,1)" x="0" y="0" font-family="Liberation Sans, sans-serif" font-size="8.8" fill="#fff" stroke="#fff" stroke-width="0.18" textLength="34.604" lengthAdjust="spacing">1.09430</text>
<text transform="translate(703.750,372.30) scale(0.86,1)" x="0" y="0" font-family="Liberation Sans, sans-serif" font-size="8.8" fill="#000" stroke="#000" stroke-width="0.18" textLength="11.032" lengthAdjust="spacing">50</text>
<text transform="translate(704.100,475.50) scale(0.86,1)" x="0" y="0" font-family="Liberation Sans, sans-serif" font-size="8.8" fill="#000" stroke="#000" stroke-width="0.18" textLength="18.197" lengthAdjust="spacing">0.00</text>
<text transform="translate(703.825,578.90) scale(0.86,1)" x="0" y="0" font-family="Liberation Sans, sans-serif" font-size="8.8" fill="#000" stroke="#000" stroke-width="0.18" textLength="13.439" lengthAdjust="spacing">-50</text>
<text transform="translate(1.675,592.60) scale(0.86,1)" x="0" y="0" font-family="Liberation Sans, sans-serif" font-size="8.8" fill="#000" stroke="#000" stroke-width="0.18" textLength="53.303" lengthAdjust="spacing">31 Mar 2023</text>
<text transform="translate(58.075,592.60) scale(0.86,1)" x="0" y="0" font-family="Liberation Sans, sans-serif" font-size="8.8" fill="#000" stroke="#000" stroke-width="0.18" textLength="52.291" lengthAdjust="spacing">12 Apr 2023</text>
<text transform="translate(114.550,592.60) scale(0.86,1)" x="0" y="0" font-family="Liberation Sans, sans-serif" font-size="8.8" fill="#000" stroke="#000" stroke-width="0.18" textLength="52.544" lengthAdjust="spacing">24 Apr 2023</text>
<text transform="translate(171.150,592.60) scale(0.86,1)" x="0" y="0" font-family="Liberation Sans, sans-serif" font-size="8.8" fill="#000" stroke="#000" stroke-width="0.18" textLength="51.223" lengthAdjust="spacing">4 May 2023</text>
<text transform="translate(227.575,592.60) scale(0.86,1)" x="0" y="0" font-family="Liberation Sans, sans-serif" font-size="8.8" fill="#000" stroke="#000" stroke-width="0.18" textLength="56.445" lengthAdjust="spacing">16 May 2023</text>
<text transform="translate(284.250,592.60) scale(0.86,1)" x="0" y="0" font-family="Liberation Sans, sans-serif" font-size="8.8" fill="#000" stroke="#000" stroke-width="0.18" textLength="55.957" lengthAdjust="spacing">26 May 2023</text>
<text transform="translate(340.550,592.60) scale(0.86,1)" x="0" y="0" font-family="Liberation Sans, sans-serif" font-size="8.8" fill="#000" stroke="#000" stroke-width="0.18" textLength="46.234" lengthAdjust="spacing">7 Jun 2023</text>
<text transform="translate(397.425,592.60) scale(0.86,1)" x="0" y="0" font-family="Liberation Sans, sans-serif" font-size="8.8" fill="#000" stroke="#000" stroke-width="0.18" textLength="50.800" lengthAdjust="spacing">19 Jun 2023</text>
<text transform="translate(453.750,592.60) scale(0.86,1)" x="0" y="0" font-family="Liberation Sans, sans-serif" font-size="8.8" fill="#000" stroke="#000" stroke-width="0.18" textLength="51.474" lengthAdjust="spacing">29 Jun 2023</text>
<text transform="translate(510.275,592.60) scale(0.86,1)" x="0" y="0" font-family="Liberation Sans, sans-serif" font-size="8.8" fill="#000" stroke="#000" stroke-width="0.18" textLength="47.312" lengthAdjust="spacing">11 Jul 2023</text>
<text transform="translate(566.550,592.60) scale(0.86,1)" x="0" y="0" font-family="Liberation Sans, sans-serif" font-size="8.8" fill="#000" stroke="#000" stroke-width="0.18" textLength="48.146" lengthAdjust="spacing">21 Jul 2023</text>
<text transform="translate(622.550,592.60) scale(0.86,1)" x="0" y="0" font-family="Liberation Sans, sans-serif" font-size="8.8" fill="#000" stroke="#000" stroke-width="0.18" textLength="49.723" lengthAdjust="spacing">2 Aug 2023</text>
<text transform="translate(679.075,592.60) scale(0.86,1)" x="0" y="0" font-family="Liberation Sans, sans-serif" font-size="8.8" fill="#000" stroke="#000" stroke-width="0.18" textLength="54.945" lengthAdjust="spacing">14 Aug 2023</text>
<text transform="translate(16.075,12.15) scale(0.86,1)" x="0" y="0" font-family="Liberation Sans, sans-serif" font-size="8.8" fill="#000" stroke="#000" stroke-width="0.18" textLength="64.263" lengthAdjust="spacing">EURUSD,Daily</text>
<text transform="translate(77.850,12.15) scale(0.86,1)" x="0" y="0" font-family="Liberation Sans, sans-serif" font-size="8.8" fill="#000" stroke="#000" stroke-width="0.18" textLength="33.443" lengthAdjust="spacing">1.09488</text>
<text transform="translate(109.575,12.15) scale(0.86,1)" x="0" y="0" font-family="Liberation Sans, sans-serif" font-size="8.8" fill="#000" stroke="#000" stroke-width="0.18" textLength="33.271" lengthAdjust="spacing">1.09593</text>
<text transform="translate(141.575,12.15) scale(0.86,1)" x="0" y="0" font-family="Liberation Sans, sans-serif" font-size="8.8" fill="#000" stroke="#000" stroke-width="0.18" textLength="33.111" lengthAdjust="spacing">1.09255</text>
<text transform="translate(172.850,12.15) scale(0.86,1)" x="0" y="0" font-family="Liberation Sans, sans-serif" font-size="8.8" fill="#000" stroke="#000" stroke-width="0.18" textLength="33.275" lengthAdjust="spacing">1.09430</text>
<text transform="translate(6.250,374.40) scale(0.86,1)" x="0" y="0" font-family="Liberation Sans, sans-serif" font-size="8.8" fill="#000" stroke="#000" stroke-width="0.18" textLength="71.149" lengthAdjust="spacing">Step RSI AM (7)</text>
<text transform="translate(70.175,374.40) scale(0.86,1)" x="0" y="0" font-family="Liberation Sans, sans-serif" font-size="8.8" fill="#000" stroke="#000" stroke-width="0.18" textLength="42.164" lengthAdjust="spacing">-10.00000</text>
<text transform="translate(109.975,374.40) scale(0.86,1)" x="0" y="0" font-family="Liberation Sans, sans-serif" font-size="8.8" fill="#000" stroke="#000" stroke-width="0.18" textLength="40.583" lengthAdjust="spacing">-10.00000</text>
</svg>
</body></html>
